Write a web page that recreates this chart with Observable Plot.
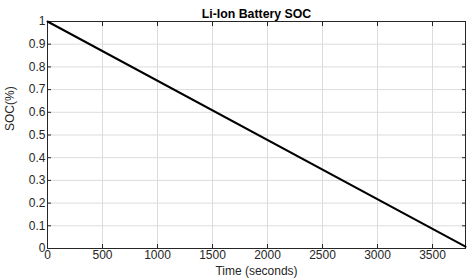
<!DOCTYPE html>
<html><head><meta charset="utf-8">
<script src="https://cdn.jsdelivr.net/npm/d3@7"></script>
<script src="https://cdn.jsdelivr.net/npm/@observablehq/plot@0.6"></script>
<style>
body{margin:0;background:#fff;}
svg{font-family:"Liberation Sans",Arial,sans-serif;}
</style></head><body>
<div id="chart"></div>
<script>
const timeSec = [0, 3800];
const soc = [1, 0.008];
const xTicks = [0, 500, 1000, 1500, 2000, 2500, 3000, 3500];
const yTicks = [0, 0.1, 0.2, 0.3, 0.4, 0.5, 0.6, 0.7, 0.8, 0.9, 1];
const titleText = "Li-Ion Battery SOC";
const xLabel = "Time (seconds)";
const yLabel = "SOC(%)";

const data = timeSec.map((t, i) => ({t, s: soc[i]}));
const fmt = d => String(+d.toFixed(1));
const ink = "#262626";

const chart = Plot.plot({
  width: 474, height: 280,
  marginLeft: 47, marginRight: 9, marginTop: 21, marginBottom: 32,
  style: {fontSize: "12px", color: ink, background: "#fff"},
  x: {domain: [0, 3800]},
  y: {domain: [0, 1]},
  marks: [
    Plot.gridX(xTicks, {stroke: "#dcdcdc", strokeOpacity: 1}),
    Plot.gridY(yTicks, {stroke: "#dcdcdc", strokeOpacity: 1}),
    Plot.frame({stroke: ink, strokeWidth: 1}),
    Plot.axisX(xTicks, {tickSize: -4, tickPadding: 6, fontSize: 12, tickFormat: d => String(d), label: null, stroke: ink}),
    Plot.axisX(xTicks, {anchor: "top", tickSize: -4, tickFormat: () => "", label: null, stroke: ink}),
    Plot.axisY(yTicks, {tickSize: -4, tickPadding: 6, fontSize: 12, tickFormat: fmt, label: null, stroke: ink}),
    Plot.axisY(yTicks, {anchor: "right", tickSize: -4, tickFormat: () => "", label: null, stroke: ink}),
    Plot.line(data, {x: "t", y: "s", stroke: "#000", strokeWidth: 2}),
    Plot.text([titleText], {frameAnchor: "top", dy: -12, fontWeight: "bold", fontSize: 12.3, fill: "#000"}),
    Plot.text([xLabel], {frameAnchor: "bottom", dy: 26, fontSize: 12, fill: ink}),
    Plot.text([yLabel], {frameAnchor: "left", dx: -37, dy: -4, rotate: -90, fontSize: 12, fill: ink})
  ]
});
document.getElementById("chart").append(chart);
</script></body></html>
